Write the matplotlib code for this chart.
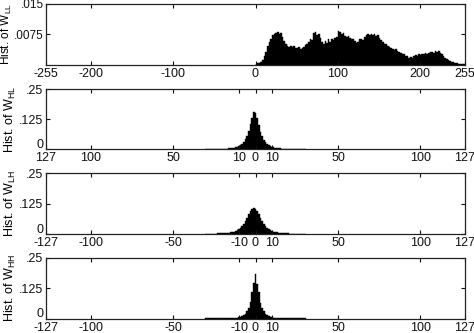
import matplotlib
matplotlib.use("Agg")
import matplotlib.pyplot as plt
import matplotlib.transforms as mtransforms
import numpy as np

plt.rcParams['font.family'] = ['Liberation Sans', 'DejaVu Sans']
plt.rcParams['font.size'] = 9
plt.rcParams['mathtext.default'] = 'regular'

# ---- data -------------------------------------------------------------
# Panel 1: histogram of W_LL (bin width 2, bins starting at 0..254), units of 1e-3
ll_bin_starts = list(range(0, 256, 2))
ll_heights_milli = [
    0.2, 0.3, 0.4, 0.6, 1.2, 2.0, 3.2, 4.5, 5.6, 6.4,   # 0-19
    7.2, 7.6, 7.9, 8.0, 7.6, 7.8, 6.8, 5.8, 5.0, 4.7,   # 20-39
    4.4, 4.6, 4.3, 4.5, 4.2, 4.0, 4.3, 3.9, 4.1, 4.4,   # 40-59
    4.8, 5.2, 5.6, 6.3, 6.0, 7.8, 8.0, 7.4, 7.6, 6.6,   # 60-79
    5.6, 5.2, 5.8, 5.4, 6.2, 5.7, 6.4, 6.0, 6.6, 6.9,   # 80-99
    8.4, 8.0, 7.5, 7.7, 7.0, 6.8, 7.1, 6.5, 6.2, 6.4,   # 100-119
    5.8, 5.3, 5.5, 6.2, 6.4, 6.0, 6.8, 7.2, 7.5, 7.3,   # 120-139
    7.6, 7.4, 7.5, 7.1, 7.3, 6.6, 6.0, 5.6, 5.2, 5.0,   # 140-159
    4.6, 4.4, 4.2, 3.8, 3.6, 3.9, 3.4, 3.2, 2.9, 2.7,   # 160-179
    2.5, 2.2, 2.0, 1.7, 1.8, 1.5, 2.1, 2.4, 2.2, 2.6,   # 180-199
    2.4, 2.7, 2.5, 2.9, 2.6, 2.8, 3.0, 3.2, 2.9, 3.3,   # 200-219
    3.1, 3.4, 2.8, 2.5, 2.0, 1.6, 1.3, 1.0, 0.8, 0.6,   # 220-239
    0.5, 0.4, 0.3, 0.2, 0.15, 0.1, 0.05, 0.02           # 240-255
]

# Panels 2-4: histograms of detail subbands, integer bins
detail_bins = list(range(-30, 31))
hl_heights = [
    0.0003, 0.0003, 0.0004, 0.0004, 0.0005, 0.0005, 0.0006, 0.0007, 0.0008, 0.0009,
    0.0010, 0.0012, 0.0015, 0.0020, 0.0025, 0.0030, 0.0040, 0.0050, 0.0070, 0.0090,
    0.0120, 0.0160, 0.0220, 0.0300, 0.0400, 0.0550, 0.0750, 0.1050, 0.1300, 0.1540,
    0.1520,
    0.1280, 0.1020, 0.0720, 0.0530, 0.0390, 0.0290, 0.0210, 0.0150, 0.0110, 0.0085,
    0.0065, 0.0050, 0.0040, 0.0030, 0.0024, 0.0020, 0.0015, 0.0012, 0.0010, 0.0008,
    0.0007, 0.0006, 0.0005, 0.0005, 0.0004, 0.0004, 0.0003, 0.0003, 0.0003, 0.0002
]
lh_heights = [
    0.0010, 0.0011, 0.0012, 0.0013, 0.0015, 0.0017, 0.0019, 0.0021, 0.0023, 0.0026,
    0.0030, 0.0034, 0.0040, 0.0048, 0.0058, 0.0068, 0.0080, 0.0095, 0.0120, 0.0150,
    0.0190, 0.0250, 0.0320, 0.0410, 0.0520, 0.0660, 0.0800, 0.0950, 0.1030, 0.1050,
    0.1040,
    0.0960, 0.0820, 0.0670, 0.0530, 0.0420, 0.0330, 0.0260, 0.0200, 0.0155, 0.0125,
    0.0098, 0.0080, 0.0066, 0.0056, 0.0047, 0.0040, 0.0034, 0.0029, 0.0025, 0.0022,
    0.0019, 0.0017, 0.0015, 0.0013, 0.0012, 0.0011, 0.0010, 0.0009, 0.0008, 0.0007
]
hh_heights = [
    0.0001, 0.0001, 0.0001, 0.0002, 0.0002, 0.0002, 0.0003, 0.0003, 0.0004, 0.0004,
    0.0005, 0.0006, 0.0007, 0.0008, 0.0010, 0.0012, 0.0015, 0.0020, 0.0030, 0.0040,
    0.0050, 0.0070, 0.0100, 0.0140, 0.0200, 0.0300, 0.0450, 0.0670, 0.1100, 0.1450,
    0.1850,
    0.1430, 0.1080, 0.0660, 0.0440, 0.0300, 0.0200, 0.0140, 0.0100, 0.0070, 0.0050,
    0.0040, 0.0030, 0.0020, 0.0015, 0.0012, 0.0010, 0.0008, 0.0006, 0.0005, 0.0004,
    0.0004, 0.0003, 0.0003, 0.0002, 0.0002, 0.0002, 0.0001, 0.0001, 0.0001, 0.0001
]

ll_xticks = [-255, -200, -100, 0, 100, 200, 255]
ll_yticks = [0.0075, 0.015]
ll_ytick_labels = ['.0075', '.015']
det_xticks = [-127, -100, -50, -10, 0, 10, 50, 100, 127]
hl_xtick_labels = ['127', '100', '50', '10', '0', '10', '50', '100', '127']
det_xtick_labels = ['-127', '-100', '-50', '-10', '0', '10', '50', '100', '127']
det_yticks = [0, 0.125, 0.25]
det_ytick_labels = ['0', '.125', '.25']
ylabels = ['Hist. of W$_{LL}$', 'Hist. of W$_{HL}$', 'Hist. of W$_{LH}$', 'Hist. of W$_{HH}$']

# ---- figure -------------------------------------------------------------
fig = plt.figure(figsize=(4.74, 3.33), dpi=100)
W, H = 474, 333
boxes = [(4, 64.5), (89, 149), (173, 234), (258, 318.5)]
left, right = 46, 465
axes = []
for top, bot in boxes:
    ax = fig.add_axes([left / W, 1 - bot / H, (right - left) / W, (bot - top) / H])
    axes.append(ax)

def style(ax):
    ax.tick_params(direction='in', length=3, width=0.8, top=True, right=True,
                   labelsize=9, colors='#111111')
    ax.tick_params(axis='x', pad=2.5)
    ax.tick_params(axis='y', pad=2)
    for s in ax.spines.values():
        s.set_linewidth(0.9)
        s.set_color('#222222')

# Panel 1
ax = axes[0]
ax.bar(np.array(ll_bin_starts) + 1, np.array(ll_heights_milli) * 1e-3, width=2,
       color='black', edgecolor='black', linewidth=0.3)
ax.set_xlim(-255, 255)
ax.set_ylim(0, 0.015)
ax.set_xticks(ll_xticks)
ax.set_xticklabels([str(t) for t in ll_xticks])
ax.set_yticks(ll_yticks)
ax.set_yticklabels(ll_ytick_labels)
style(ax)
ax.tick_params(axis='y', labelsize=8.5, pad=1.5)

# Panels 2-4
for ax, hts, xl in zip(axes[1:], [hl_heights, lh_heights, hh_heights],
                       [hl_xtick_labels, det_xtick_labels, det_xtick_labels]):
    ax.bar(detail_bins, hts, width=1, color='black', edgecolor='black', linewidth=0.3)
    ax.set_xlim(-127, 127)
    ax.set_ylim(0, 0.25)
    ax.set_xticks(det_xticks)
    ax.set_xticklabels(xl)
    ax.set_yticks(det_yticks)
    ax.set_yticklabels(det_ytick_labels)
    style(ax)
    # lift the "0" label a little so it sits above the x tick labels
    lab0 = ax.get_yticklabels()[0]
    lab0.set_transform(lab0.get_transform() +
                       mtransforms.ScaledTranslation(0, 4 / 72, fig.dpi_scale_trans))

label_x = [-0.076, -0.068, -0.068, -0.068]
label_fs = [8.5, 9, 9, 9]
for ax, lab, lx, fs in zip(axes, ylabels, label_x, label_fs):
    ax.set_ylabel(lab, fontsize=fs, labelpad=3)
    ax.yaxis.set_label_coords(lx, 0.5)

fig.savefig('out.png', dpi=100)
